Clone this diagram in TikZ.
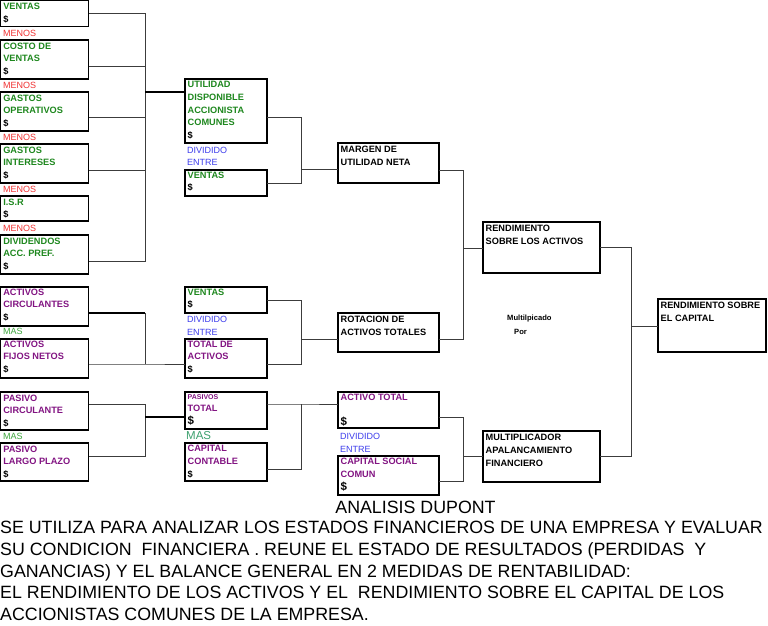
\documentclass[tikz,border=0pt]{standalone}
\usepackage{fontspec}
\setmainfont{Liberation Sans}
\definecolor{verde}{RGB}{30,135,30}
\definecolor{morado}{RGB}{130,20,130}
\definecolor{rojo}{RGB}{240,50,50}
\definecolor{azul}{RGB}{60,60,235}
\definecolor{verdeclaro}{RGB}{60,165,60}
\definecolor{aqua}{RGB}{60,160,110}
\definecolor{linea}{RGB}{60,60,60}
\tikzset{
	caja/.style={draw, line width=1.1pt, anchor=north west, inner sep=0pt, outer sep=0pt, minimum width=#1},
	cajagruesa/.style={caja=#1, line width=2.3pt},
	txt/.style={font=\fontsize{9.2}{12.8}\selectfont\bfseries, align=left, anchor=north west, inner sep=0pt},
	op/.style={font=\fontsize{9}{10}\selectfont, anchor=west, inner sep=0pt},
	conn/.style={draw=linea, line width=0.8pt},
	conng/.style={draw=black, line width=1.6pt},
}
\newcommand{\pesos}{\textcolor{black}{\$}}
\begin{document}
\begin{tikzpicture}[x=1pt,y=-1pt]
	\useasboundingbox (0,0) rectangle (768,626);
	% columna izquierda
	\node[caja=88, minimum height=26] (ventasA) at (0.6,0.6) {};
	\node[caja=88, minimum height=39] (costo) at (0.6,40) {};
	\node[caja=88, minimum height=39] (gastop) at (0.6,92) {};
	\node[caja=88, minimum height=39] (gastint) at (0.6,144) {};
	\node[caja=88, minimum height=25] (isr) at (0.6,196) {};
	\node[caja=88, minimum height=39] (divpref) at (0.6,235) {};
	\node[caja=88, minimum height=39] (actcirc) at (0.6,287) {};
	\node[caja=88, minimum height=39] (actfij) at (0.6,339) {};
	\node[caja=88, minimum height=38] (pascirc) at (0.6,392) {};
	\node[caja=88, minimum height=38] (paslp) at (0.6,443) {};
	\node[txt, text=verde] (lventasA) at ([xshift=2.5pt,yshift=-2.5pt]ventasA.north west) {VENTAS\\\pesos};
	\node[txt, text=verde] (lcosto) at ([xshift=2.5pt,yshift=-2.5pt]costo.north west) {COSTO DE\\VENTAS\\\pesos};
	\node[txt, text=verde] (lgastop) at ([xshift=2.5pt,yshift=-2.5pt]gastop.north west) {GASTOS\\OPERATIVOS\\\pesos};
	\node[txt, text=verde] (lgastint) at ([xshift=2.5pt,yshift=-2.5pt]gastint.north west) {GASTOS\\INTERESES\\\pesos};
	\node[txt, text=verde] (lisr) at ([xshift=2.5pt,yshift=-2.5pt]isr.north west) {I.S.R\\\pesos};
	\node[txt, text=verde] (ldivpref) at ([xshift=2.5pt,yshift=-2.5pt]divpref.north west) {DIVIDENDOS\\ACC. PREF.\\\pesos};
	\node[txt, text=morado] (lactcirc) at ([xshift=2.5pt,yshift=-1.5pt]actcirc.north west) {ACTIVOS\\CIRCULANTES\\\pesos};
	\node[txt, text=morado] (lactfij) at ([xshift=2.5pt,yshift=-1.5pt]actfij.north west) {ACTIVOS\\FIJOS NETOS\\\pesos};
	\node[txt, text=morado] (lpascirc) at ([xshift=2.5pt,yshift=-2.5pt]pascirc.north west) {PASIVO\\CIRCULANTE\\\pesos};
	\node[txt, text=morado] (lpaslp) at ([xshift=2.5pt,yshift=-2.5pt]paslp.north west) {PASIVO\\LARGO PLAZO\\\pesos};
	\node[op, text=rojo] (menos1) at (3,33) {MENOS};
	\node[op, text=rojo] (menos2) at (3,85) {MENOS};
	\node[op, text=rojo] (menos3) at (3,137) {MENOS};
	\node[op, text=rojo] (menos4) at (3,189) {MENOS};
	\node[op, text=rojo] (menos5) at (3,228) {MENOS};
	\node[op, text=verdeclaro] (mas1) at (3,331) {MAS};
	\node[op, text=verdeclaro] (mas2) at (3,436) {MAS};
	% columna central
	\node[caja=82, minimum height=64] (util) at (185,79) {};
	\node[caja=82, minimum height=26] (ventasB) at (185,170) {};
	\node[caja=82, minimum height=26] (ventasC) at (185,287) {};
	\node[caja=82, minimum height=39] (totact) at (185,339) {};
	\node[caja=82, minimum height=37] (pastot) at (185,392) {};
	\node[caja=82, minimum height=38] (capcont) at (185,443) {};
	\node[txt, text=verde] (lutil) at ([xshift=2.5pt,yshift=-2pt]util.north west) {UTILIDAD\\DISPONIBLE\\ACCIONISTA\\COMUNES\\\pesos};
	\node[txt, text=verde] (lventasB) at ([xshift=2.5pt,yshift=-1.5pt]ventasB.north west) {VENTAS\\\pesos};
	\node[txt, text=verde] (lventasC) at ([xshift=2.5pt,yshift=-1.5pt]ventasC.north west) {VENTAS\\\pesos};
	\node[txt, text=morado] (ltotact) at ([xshift=2.5pt,yshift=-1.5pt]totact.north west) {TOTAL DE\\ACTIVOS\\\pesos};
	\node[txt, text=morado] (lpastot) at ([xshift=2.5pt,yshift=-2pt]pastot.north west) {{\fontsize{7}{8}\selectfont PASIVOS}\\TOTAL\\{\fontsize{11.5}{12}\selectfont\pesos}};
	\node[txt, text=morado] (lcapcont) at ([xshift=2.5pt,yshift=-2pt]capcont.north west) {CAPITAL\\CONTABLE\\\pesos};
	\node[op, text=azul] (divi1) at (187,150) {DIVIDIDO};
	\node[op, text=azul] (entre1) at (187,162) {ENTRE};
	\node[op, text=azul] (divi2) at (187,319) {DIVIDIDO};
	\node[op, text=azul] (entre2) at (187,332) {ENTRE};
	\node[op, text=aqua, font=\fontsize{11.5}{12}\selectfont] (mas3) at (186,436) {MAS};
	% tercera columna
	\node[cajagruesa=101, minimum height=40] (margen) at (338,143) {};
	\node[cajagruesa=101, minimum height=39] (rotac) at (338,313) {};
	\node[caja=101, minimum height=36] (acttot) at (338,392) {};
	\node[caja=101, minimum height=39] (capsoc) at (338,456) {};
	\node[txt] (lmargen) at ([xshift=2.5pt,yshift=-3pt]margen.north west) {MARGEN DE\\UTILIDAD NETA};
	\node[txt] (lrotac) at ([xshift=2.5pt,yshift=-3pt]rotac.north west) {ROTACION DE\\ACTIVOS TOTALES};
	\node[txt, text=morado] (lacttot) at ([xshift=2.5pt,yshift=-2pt]acttot.north west) {ACTIVO TOTAL\\[12pt]{\fontsize{11.5}{12}\selectfont\pesos}};
	\node[txt, text=morado] (lcapsoc) at ([xshift=2.5pt,yshift=-2pt]capsoc.north west) {CAPITAL SOCIAL\\COMUN\\{\fontsize{11.5}{12}\selectfont\pesos}};
	\node[op, text=azul] (divi3) at (340,436) {DIVIDIDO};
	\node[op, text=azul] (entre3) at (340,449) {ENTRE};
	% razones finales
	\node[cajagruesa=117, minimum height=51] (rendact) at (483,222) {};
	\node[cajagruesa=117, minimum height=51] (multip) at (483,431) {};
	\node[cajagruesa=108, minimum height=53] (rendcap) at (658,299) {};
	\node[txt] (lrendact) at ([xshift=2.5pt,yshift=-3pt]rendact.north west) {RENDIMIENTO\\SOBRE LOS ACTIVOS};
	\node[txt] (lmultip) at ([xshift=2.5pt,yshift=-3pt]multip.north west) {MULTIPLICADOR\\APALANCAMIENTO\\FINANCIERO};
	\node[txt] (lrendcap) at ([xshift=2.5pt,yshift=-3pt]rendcap.north west) {RENDIMIENTO SOBRE\\EL CAPITAL};
	\node[op, font=\fontsize{7.6}{8}\selectfont\bfseries] (multi) at (507,319) {Multilpicado};
	\node[op, font=\fontsize{7.6}{8}\selectfont\bfseries] (por) at (514,332) {Por};
	% uniones
	\coordinate (b1) at (145,92);
	\coordinate (b2) at (301,169);
	\coordinate (b3) at (463,248);
	\coordinate (b4a) at (145,313);
	\coordinate (b4) at (145,364);
	\coordinate (b5) at (301,339);
	\coordinate (b6) at (145,417);
	\coordinate (b7) at (301,404);
	\coordinate (b8) at (463,456);
	\coordinate (b9) at (631,326);
	\draw[conn] (ventasA.east) -| (b1);
	\draw[conn] ([yshift=-6.5pt]costo.east) -| (b1);
	\draw[conn] ([yshift=-5.5pt]gastop.east) -| (b1);
	\draw[conn] ([yshift=-6.5pt]gastint.east) -| (b1);
	\draw[conn] ([yshift=-6.5pt]divpref.east) -| (b1);
	\draw[conng] (b1) -- (b1 -| util.west);
	\draw[conn] ([yshift=-6pt]util.east) -| (b2);
	\draw[conn] (ventasB.east) -| (b2) -- (b2 -| margen.west);
	\draw[conn] ([yshift=-7pt]margen.east) -| (b3);
	\draw[conn] ([yshift=-6.5pt]rotac.east) -| (b3) -- (b3 -| rendact.west);
	\draw[conng] (b4a -| actcirc.east) -- (b4a);
	\draw[conn] (b4a) -- (b4);
	\draw[conn] (b4 -| actfij.east) -- (b4) -- (b4 -| totact.west);
	\draw[conn] (ventasC.east) -| (b5);
	\draw[conn] ([yshift=-5.5pt]totact.east) -| (b5) -- (b5 -| rotac.west);
	\draw[conn] ([yshift=7pt]pascirc.east) -| (b6);
	\draw[conn] ([yshift=6pt]paslp.east) -| (b6);
	\draw[conng] (b6) -- (b6 -| pastot.west);
	\draw[conn] (b7 -| pastot.east) -- (b7) -- (b7 -| acttot.west);
	\draw[conn] ([yshift=-7pt]capcont.east) -| (b7);
	\draw[conn] ([yshift=-7pt]acttot.east) -| (b8);
	\draw[conn] ([yshift=-5.5pt]capsoc.east) -| (b8) -- (b8 -| multip.west);
	\draw[conn] (rendact.east) -| (b9);
	\draw[conn] (multip.east) -| (b9) -- (b9 -| rendcap.west);
	% texto de abajo
	\node[font=\fontsize{17.8}{21.7}\selectfont, inner sep=0pt] (titulo) at (415.5,507) {ANALISIS DUPONT};
	\node[font=\fontsize{17.8}{21.7}\selectfont, align=left, anchor=north west, inner sep=0pt] (desc) at (0,521) {SE UTILIZA PARA ANALIZAR LOS ESTADOS FINANCIEROS DE UNA EMPRESA Y EVALUAR\\SU CONDICION\ \ FINANCIERA . REUNE EL ESTADO DE RESULTADOS (PERDIDAS\ \ Y\\GANANCIAS) Y EL BALANCE GENERAL EN 2 MEDIDAS DE RENTABILIDAD:\\EL RENDIMIENTO DE LOS ACTIVOS Y EL\ \ RENDIMIENTO SOBRE EL CAPITAL DE LOS\\ACCIONISTAS COMUNES DE LA EMPRESA.};
\end{tikzpicture}
\end{document}
